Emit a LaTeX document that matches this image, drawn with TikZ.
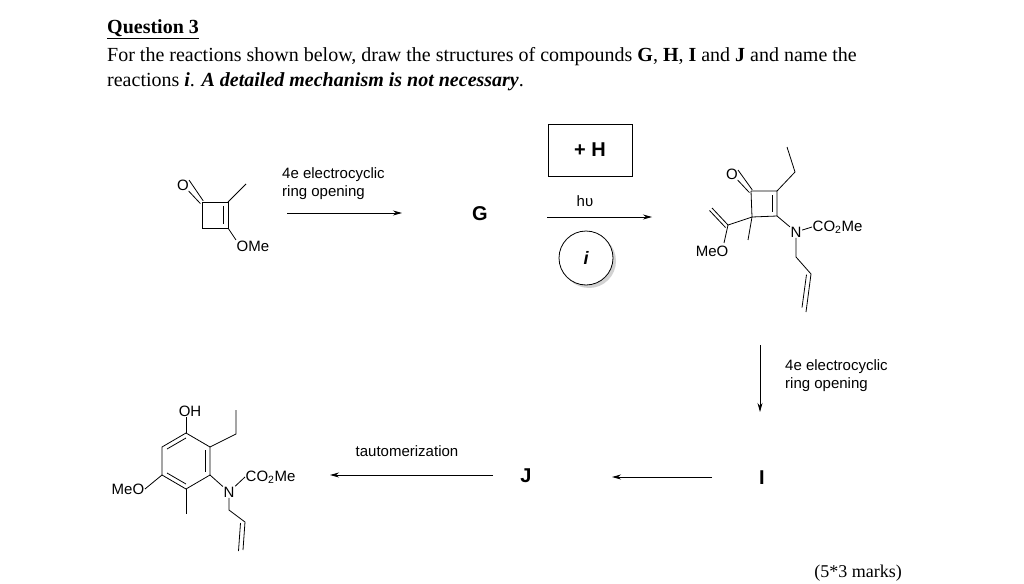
\documentclass[tikz,border=0pt]{standalone}
\usepackage{fontspec}
\setmainfont{Liberation Serif}
\setsansfont{Liberation Sans}
\usetikzlibrary{arrows.meta,shadows,calc}
\begin{document}
\begin{tikzpicture}[x=1pt,y=-1pt,
  bond/.style={line width=0.8pt},
  rx/.style={line width=0.8pt,-{Stealth[length=9pt,width=5pt]}},
  lab/.style={font=\sffamily\fontsize{15}{17}\selectfont,inner sep=0pt},
  cmp/.style={font=\sffamily\bfseries\fontsize{20}{22}\selectfont,inner sep=0pt},
  atom/.style={font=\sffamily\fontsize{15}{17}\selectfont,inner sep=0.5pt}]
\useasboundingbox (0,0) rectangle (1024,583);
% header
\node[anchor=base west,inner sep=0,font=\fontsize{20}{22}\selectfont\bfseries] (q) at (107,34) {\underline{Question 3}};
\node[anchor=base west,inner sep=0,font=\fontsize{20}{22}\selectfont] (l1) at (107,62) {For the reactions shown below, draw the structures of compounds \textbf{G}, \textbf{H}, \textbf{I} and \textbf{J} and name the};
\node[anchor=base west,inner sep=0,font=\fontsize{20}{22}\selectfont] (l2) at (107,87) {reactions \textbf{\textit{i}}. \textbf{\textit{A detailed mechanism is not necessary}}.};
\node[anchor=base,inner sep=0,font=\fontsize{18}{20}\selectfont] (mk) at (858,577) {(5*3 marks)};
% molecule 1
\coordinate (a1) at (202,202); \coordinate (a2) at (228,202);
\coordinate (a3) at (228,228); \coordinate (a4) at (202,228);
\coordinate (am) at (246,184);
\node[atom] (aO) at (183,185) {O};
\node[atom,anchor=west] (aOMe) at (236,246) {OMe};
\draw[bond] (a1)--(a2)--(a3)--(a4)--(a1);
\draw[bond] (223,206)--(223,224);
\draw[bond] (a2)--(am);
\draw[bond] ($(a1)+(-1.6,1.6)$)--(aO) ($(a1)+(1.2,-1.2)$)--(189,180);
\draw[bond] (a3)--(aOMe.north west);
% arrows row 1
\node[lab,anchor=west] (t1) at (282,175) {4e electrocyclic};
\node[lab,anchor=west] (t2) at (282,193) {ring opening};
\coordinate (r1s) at (287,213); \coordinate (r1e) at (402,213);
\draw[rx] (r1s)--(r1e);
\node[cmp] (G) at (480,214) {G};
\coordinate (r2s) at (547,217); \coordinate (r2e) at (652,217);
\draw[rx] (r2s)--(r2e);
\node[lab] (hv) at (585,201) {hυ};
\node[draw,line width=0.8pt,minimum width=84pt,minimum height=52pt,font=\sffamily\bfseries\fontsize{20}{22}\selectfont] (H) at (590,150) {+ H};
\node[circle,draw,fill=white,line width=0.8pt,minimum size=54pt,drop shadow={shadow xshift=3pt,shadow yshift=-3pt,fill=black!35},font=\sffamily\bfseries\itshape\fontsize{18}{20}\selectfont] (i) at (586,258) {i};
% molecule 2
\coordinate (b1) at (751,191); \coordinate (b2) at (777,191);
\coordinate (b3) at (777,216); \coordinate (b4) at (752,217);
\node[atom] (bO) at (732,174) {O};
\coordinate (be1) at (795,172); \coordinate (be2) at (787,147);
\node[atom] (bN) at (796,232) {N};
\node[atom,anchor=west] (bC) at (812,227) {CO\textsubscript{2}Me};
\coordinate (ba1) at (796,257); \coordinate (ba2) at (811,274); \coordinate (ba3) at (806,312);
\coordinate (bm) at (748,240);
\coordinate (bc) at (728,225); \coordinate (bch) at (712,208);
\node[atom] (bMeO) at (712,251) {MeO};
\draw[bond] (b1)--(b2)--(b3)--(b4)--(b1);
\draw[bond] (772,195)--(772,212);
\draw[bond] ($(b1)+(-1.6,1.6)$)--(bO) ($(b1)+(1.2,-1.2)$)--(738,170);
\draw[bond] (b2)--(be1)--(be2);
\draw[bond] (b3)--(bN);
\draw[bond] (bN)--(bC.west);
\draw[bond] (bN)--(ba1)--(ba2)--(ba3);
\draw[bond] (ba2)++(-4.5,0.6)--++(-4.5,33);
\draw[bond] (b4)--(bm);
\draw[bond] (b4)--(bc)--(bch);
\draw[bond] ($(bc)+(-2.5,2.5)$)--($(bch)+(-2.5,2.5)$);
\draw[bond] (bc)--(724,243);
% vertical arrow
\coordinate (r3s) at (760,345); \coordinate (r3e) at (760,412);
\draw[rx] (r3s)--(r3e);
\node[lab,anchor=west] (t3) at (785,367) {4e electrocyclic};
\node[lab,anchor=west] (t4) at (785,385) {ring opening};
\node[cmp] (I) at (762,478) {I};
\coordinate (r4s) at (712,477); \coordinate (r4e) at (612,477);
\draw[rx] (r4s)--(r4e);
\node[cmp] (J) at (526,476) {J};
\coordinate (r5s) at (493,475); \coordinate (r5e) at (330,475);
\draw[rx] (r5s)--(r5e);
\node[lab] (t5) at (407,451) {tautomerization};
% molecule 3
\coordinate (c1) at (186,433); \coordinate (c2) at (210,447);
\coordinate (c3) at (210,475); \coordinate (c4) at (186,489);
\coordinate (c5) at (162,475); \coordinate (c6) at (162,447);
\draw[bond] (c1)--(c2)--(c3)--(c4)--(c5)--(c6)--cycle;
\draw[bond] (186,438)--(167,449);
\draw[bond] (205,450)--(205,472);
\draw[bond] (186,484)--(167,473);
\node[atom] (OH) at (190,411) {OH};
\draw[bond] (c1)--(OH.south -| c1);
\draw[bond] (c2)--(236,434)--(236,410);
\node[atom] (cN) at (229,492) {N};
\node[atom,anchor=west] (cC) at (245,477) {CO\textsubscript{2}Me};
\draw[bond] (c3)--(cN);
\draw[bond] (cN)--(cC.west);
\coordinate (ca1) at (229,510); \coordinate (ca2) at (245,522); \coordinate (ca3) at (243,550);
\draw[bond] (cN)--(ca1)--(ca2)--(ca3);
\draw[bond] (ca2)++(-4.5,1)--++(-2,28);
\draw[bond] (c4)--(186,514);
\node[atom] (cMeO) at (128,489) {MeO};
\draw[bond] (c5)--(cMeO.east);
\end{tikzpicture}
\end{document}
